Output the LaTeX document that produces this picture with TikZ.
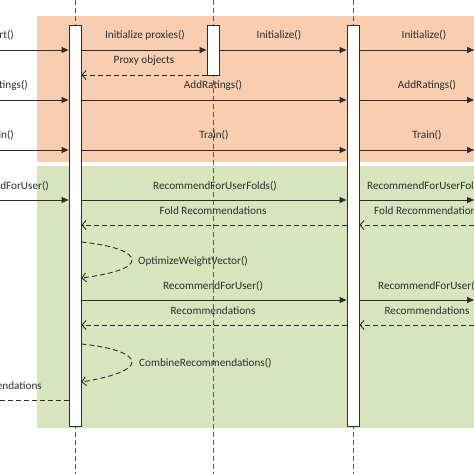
\documentclass[tikz,border=0pt]{standalone}
\usepackage{fontspec}
\setmainfont{Carlito}
\usetikzlibrary{arrows.meta}
\definecolor{orangebg}{RGB}{248,205,176}
\definecolor{greenbg}{RGB}{215,228,190}
\definecolor{ink}{RGB}{45,45,45}
\definecolor{lifegray}{RGB}{90,90,90}
\tikzset{
  lbl/.style={font=\fontsize{11.2}{13}\selectfont, text=ink, inner sep=0pt},
  actbox/.style={draw=ink, fill=white, line width=0.9pt, minimum width=12pt, inner sep=0pt},
  lifeline/.style={draw=lifegray, line width=1pt, dash pattern=on 5pt off 3pt},
  callarrow/.style={draw=ink, line width=0.9pt, -{Triangle[length=7pt,width=6pt]}},
  retarrow/.style={draw=ink, line width=0.9pt, dash pattern=on 5pt off 3pt, -{Straight Barb[length=4pt,width=9pt]}},
  retplain/.style={draw=ink, line width=0.9pt, dash pattern=on 5pt off 3pt},
}
\begin{document}
\begin{tikzpicture}[x=1pt,y=-1pt]
\useasboundingbox (0,0) rectangle (474,474);
\clip (0,0) rectangle (474,474);
% backgrounds
\fill[orangebg] (37,16) rectangle (474,162);
\fill[greenbg] (37,166) rectangle (474,428);
% lifelines
\draw[lifeline] (75,0) -- (75,474);
\draw[lifeline] (213,0) -- (213,474);
\draw[lifeline] (353,0) -- (353,474);
% activation boxes
\node[actbox, minimum height=401pt] (a1) at (75,225.5) {};
\node[actbox, minimum height=50pt] (a2) at (213,50) {};
\node[actbox, minimum height=401pt] (a3) at (353,225.5) {};
% free ends
\coordinate (L) at (0,0);
\coordinate (R) at (474,0);
% Start
\draw[callarrow] (L |- 0,50) -- (a1.west |- 0,50);
\node[lbl, anchor=east] (t1) at (14,35) {Start()};
\draw[callarrow] (a1.east |- 0,50) -- (a2.west |- 0,50);
\node[lbl] (t2) at (145,35) {Initialize proxies()};
\draw[callarrow] (a2.east |- 0,50) -- (a3.west |- 0,50);
\node[lbl] (t3) at (279,35) {Initialize()};
\draw[callarrow] (a3.east |- 0,50) -- (R |- 0,50);
\node[lbl] (t4) at (424,35) {Initialize()};
\draw[retarrow] (a2.west |- 0,75) -- (a1.east |- 0,75);
\node[lbl] (t5) at (144,61) {Proxy objects};
% AddRatings
\draw[callarrow] (L |- 0,100) -- (a1.west |- 0,100);
\node[lbl, anchor=east] (t6) at (28,85) {AddRatings()};
\draw[callarrow] (a1.east |- 0,100) -- (a3.west |- 0,100);
\node[lbl] (t7) at (213,85) {AddRatings()};
\draw[callarrow] (a3.east |- 0,100) -- (R |- 0,100);
\node[lbl] (t8) at (427,85) {AddRatings()};
% Train
\draw[callarrow] (L |- 0,150) -- (a1.west |- 0,150);
\node[lbl, anchor=east] (t9) at (14,135) {Train()};
\draw[callarrow] (a1.east |- 0,150) -- (a3.west |- 0,150);
\node[lbl] (t10) at (214,135) {Train()};
\draw[callarrow] (a3.east |- 0,150) -- (R |- 0,150);
\node[lbl] (t11) at (427,135) {Train()};
% RecommendForUser
\draw[callarrow] (L |- 0,200) -- (a1.west |- 0,200);
\node[lbl, anchor=east] (t12) at (49,186) {RecommendForUser()};
\draw[callarrow] (a1.east |- 0,200) -- (a3.west |- 0,200);
\node[lbl] (t13) at (215,186) {RecommendForUserFolds()};
\draw[callarrow] (a3.east |- 0,200) -- (R |- 0,200);
\node[lbl, anchor=west] (t14) at (367,186) {RecommendForUserFolds()};
\draw[retarrow] (a3.west |- 0,225) -- (a1.east |- 0,225);
\node[lbl] (t15) at (213,211) {Fold Recommendations};
\draw[retarrow] (R |- 0,225) -- (a3.east |- 0,225);
\node[lbl, anchor=west] (t16) at (374,211) {Fold Recommendations};
% OptimizeWeightVector
\draw[retarrow] (a1.east |- 0,242) .. controls (112,245) and (132,252) .. (132,260) .. controls (132,268) and (112,274) .. (a1.east |- 0,278);
\node[lbl, anchor=west] (t17) at (138,261) {OptimizeWeightVector()};
% RecommendForUser
\draw[callarrow] (a1.east |- 0,300) -- (a3.west |- 0,300);
\node[lbl] (t18) at (213,286) {RecommendForUser()};
\draw[callarrow] (a3.east |- 0,300) -- (R |- 0,300);
\node[lbl, anchor=west] (t19) at (378,286) {RecommendForUser()};
\draw[retarrow] (a3.west |- 0,325) -- (a1.east |- 0,325);
\node[lbl] (t20) at (213,311) {Recommendations};
\draw[retarrow] (R |- 0,325) -- (a3.east |- 0,325);
\node[lbl] (t21) at (427,311) {Recommendations};
% CombineRecommendations
\draw[retarrow] (a1.east |- 0,344) .. controls (112,347) and (132,354) .. (132,362) .. controls (132,370) and (112,377) .. (a1.east |- 0,382);
\node[lbl, anchor=west] (t22) at (139,363) {CombineRecommendations()};
% final return
\draw[retplain] (a1.west |- 0,400) -- (L |- 0,400);
\node[lbl, anchor=east] (t23) at (42,386) {Recommendations};
\end{tikzpicture}
\end{document}
